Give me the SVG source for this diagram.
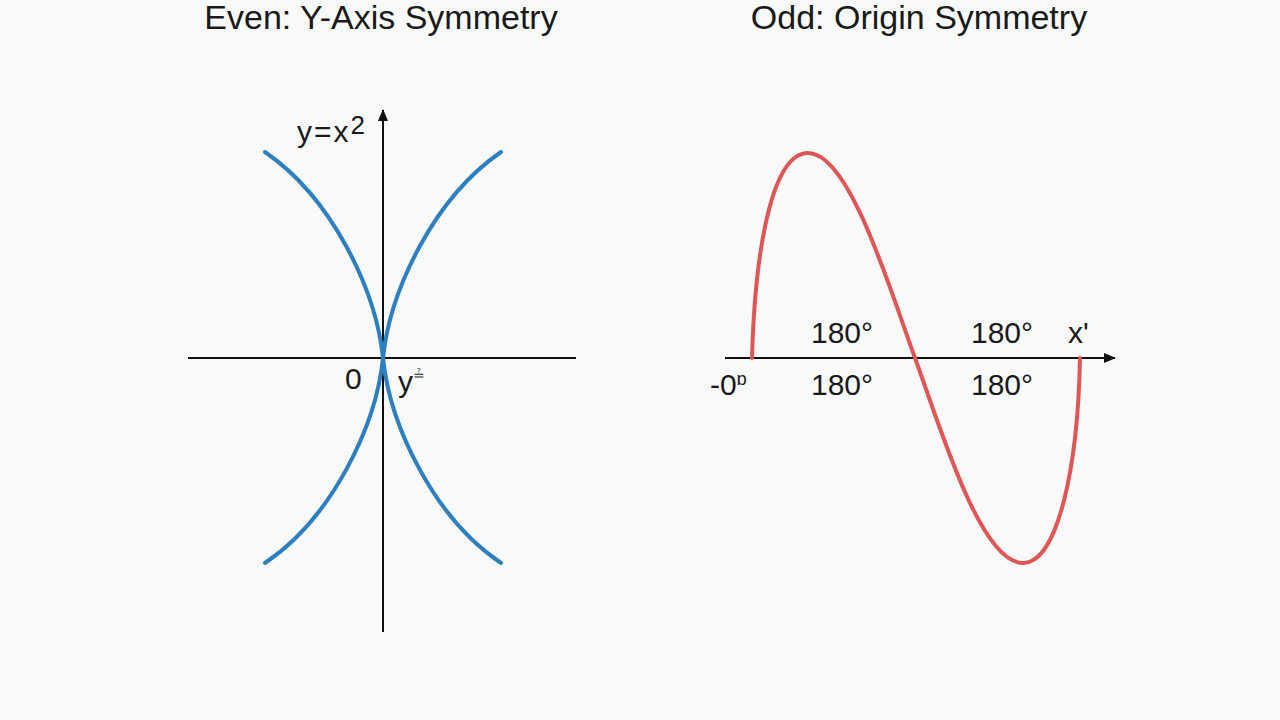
<svg xmlns="http://www.w3.org/2000/svg" width="1280" height="720" viewBox="0 0 1280 720">
<defs>
<marker id="arr" viewBox="0 0 12 10" refX="11" refY="5" markerWidth="12" markerHeight="10" markerUnits="userSpaceOnUse" orient="auto">
<path d="M0,0 L12,5 L0,10 Z" fill="#111"/>
</marker>
<style>
.t{font-family:"Liberation Sans",Arial,sans-serif;fill:#1a1a1a}
.title{font-size:34px}
.lbl{font-size:30px}
.axis{stroke:#111;stroke-width:2;fill:none}
.blue{stroke:#2e7fbf;stroke-width:4;fill:none;stroke-linecap:round}
.red{stroke:#e05555;stroke-width:4;fill:none;stroke-linecap:round}
</style>
</defs>
<rect width="1280" height="720" fill="#f8f9f9"/>
<g id="titles">
<text class="t title" x="381" y="29" text-anchor="middle">Even: Y-Axis Symmetry</text>
<text class="t title" x="919" y="29" text-anchor="middle">Odd: Origin Symmetry</text>
</g>
<g id="connectors">
<line class="axis" x1="188" y1="358" x2="576" y2="358"/>
<line class="axis" x1="383" y1="632" x2="383" y2="110" marker-end="url(#arr)"/>
<line class="axis" x1="725" y1="358" x2="1115" y2="358" marker-end="url(#arr)"/>
</g>
<g id="even-graph">
<path class="blue" d="M265,152 C332,198 376,290 383,358 C390,426 434,518 501,563"/>
<path class="blue" d="M501,152 C434,198 390,290 383,358 C376,426 332,518 265,563"/>
<text class="t" x="297" y="142" font-size="30" letter-spacing="2">y=x<tspan font-size="26" dy="-8">2</tspan></text>
<text class="t lbl" x="345" y="389">0</text>
<text class="t lbl" x="398" y="392">y<tspan font-size="14" dy="-12">≟</tspan></text>
</g>
<g id="odd-graph">
<path class="red" d="M752,358 C755,250 772,153 808,153 C850,153 890,290 915,358 C940,426 980,563 1023,563 C1058,563 1078,466 1080,358"/>
<text class="t lbl" x="811" y="343">180°</text>
<text class="t lbl" x="971" y="343">180°</text>
<text class="t lbl" x="811" y="395">180°</text>
<text class="t lbl" x="971" y="395">180°</text>
<text class="t lbl" x="1068" y="343">x'</text>
<text class="t lbl" x="710" y="395">-0<tspan font-size="18" dy="-10">ɒ</tspan></text>
</g>
</svg>
